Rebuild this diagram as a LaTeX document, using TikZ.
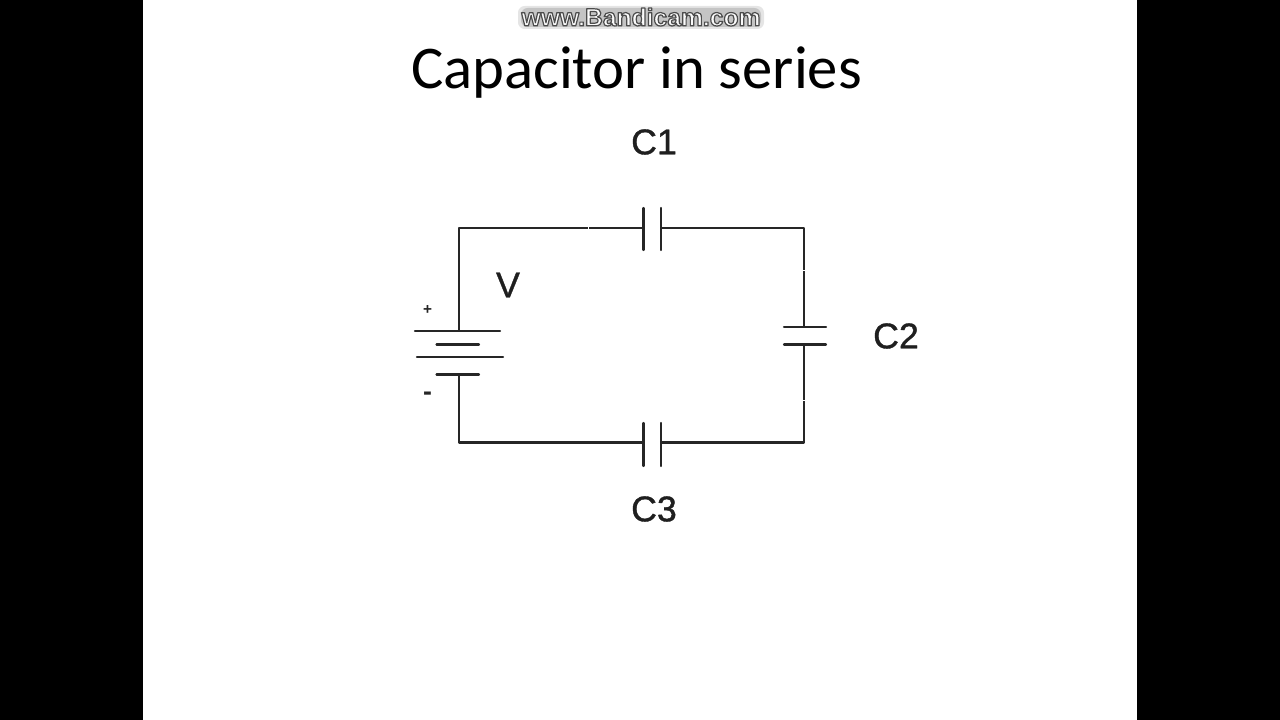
\documentclass[tikz,border=0pt]{standalone}
\usepackage{fontspec}
\setmainfont{Liberation Sans}
\newfontfamily\titlefont{Carlito}
\newfontfamily\lblfont[RawFeature={embolden=1}]{Liberation Sans}
\tikzset{
  x=0.75pt,y=-0.75pt,
  wire/.style={draw=black!85,line width=1.6pt,line cap=butt,line join=round},
  plate/.style={draw=black!85,line width=1.6pt,line cap=round},
  nick/.style={draw=white,line width=1.2pt},
  lbl/.style={inner sep=0pt,text=black!88,font=\lblfont\fontsize{26.8pt}{30pt}\selectfont},
  smallsign/.style={inner sep=0pt,text=black!85,font=\fontsize{#1}{18pt}\selectfont\bfseries},
  glow/.style={fill=black,rounded corners=5pt},
}
\begin{document}
\begin{tikzpicture}
\useasboundingbox (0,0) rectangle (1280,720);
\fill[black] (0,0) rectangle (1280,720);
\fill[white] (143,0) rectangle (1137,720);
% title
\node[inner sep=0pt,text=black,font=\titlefont\fontsize{45.5pt}{54pt}\selectfont] (title) at (636.5,73) {Capacitor in series};
% watermark: soft glow band, then white lettering with a dark outline
\fill[glow,opacity=0.10] (518,6) rectangle (764,29);
\fill[glow,opacity=0.14] (521,8) rectangle (761,27);
\node[inner sep=0pt,text=white,font=\fontsize{18.5pt}{20pt}\selectfont\bfseries] (mark) at (641,17)
  {\special{pdf:code 2 Tr 0.9 w 1 j 0.3 G 0.98 g}www.Bandicam.com\special{pdf:code 0 Tr 0 G 0 g}};
% junctions
\coordinate (tl) at (459,228);
\coordinate (tr) at (804,228);
\coordinate (br) at (804,442.5);
\coordinate (bl) at (459,442.5);
% C1 plates
\coordinate (c1a) at (643.5,228);
\coordinate (c1b) at (661,228);
\draw[plate] (643.5,208) -- (643.5,250);
\draw[plate] (661,208) -- (661,250);
% C2 plates
\coordinate (c2a) at (804,327);
\coordinate (c2b) at (804,344.5);
\draw[plate] (784,327) -- (826,327);
\draw[plate] (784,344.5) -- (826,344.5);
% C3 plates
\coordinate (c3a) at (643.5,442.5);
\coordinate (c3b) at (661,442.5);
\draw[plate] (643.5,423) -- (643.5,466);
\draw[plate] (661,423) -- (661,466);
% battery
\coordinate (batp) at (459,331);
\coordinate (batn) at (459,374.5);
\draw[plate] (415,331) -- (500,331);
\draw[plate] (436.5,344.5) -- (479,344.5);
\draw[plate] (417,357) -- (503,357);
\draw[plate] (436.5,374.5) -- (479,374.5);
% wires
\draw[wire] (batp) -- (tl) -- (c1a);
\draw[wire] (c1b) -- (tr) -- (c2a);
\draw[wire] (c2b) -- (br) -- (c3b);
\draw[wire] (c3a) -- (bl) -- (batn);
% tiny breaks in the scanned wires
\draw[nick] (802,270.5) -- (806,270.5);
\draw[nick] (802,400.5) -- (806,400.5);
\draw[draw=white,line width=0.7pt] (588,226) -- (588,230);
% labels
\node[lbl] (lc1) at (654,142) {C1};
\node[lbl] (lc2) at (896,336) {C2};
\node[lbl] (lc3) at (654,509) {C3};
\node[lbl] (lv) at (508,285) {V};
\node[smallsign=11.5pt] (plus) at (427.5,310) {+};
\node[smallsign=20pt] (minus) at (427.5,396) {-};
\end{tikzpicture}
\end{document}
